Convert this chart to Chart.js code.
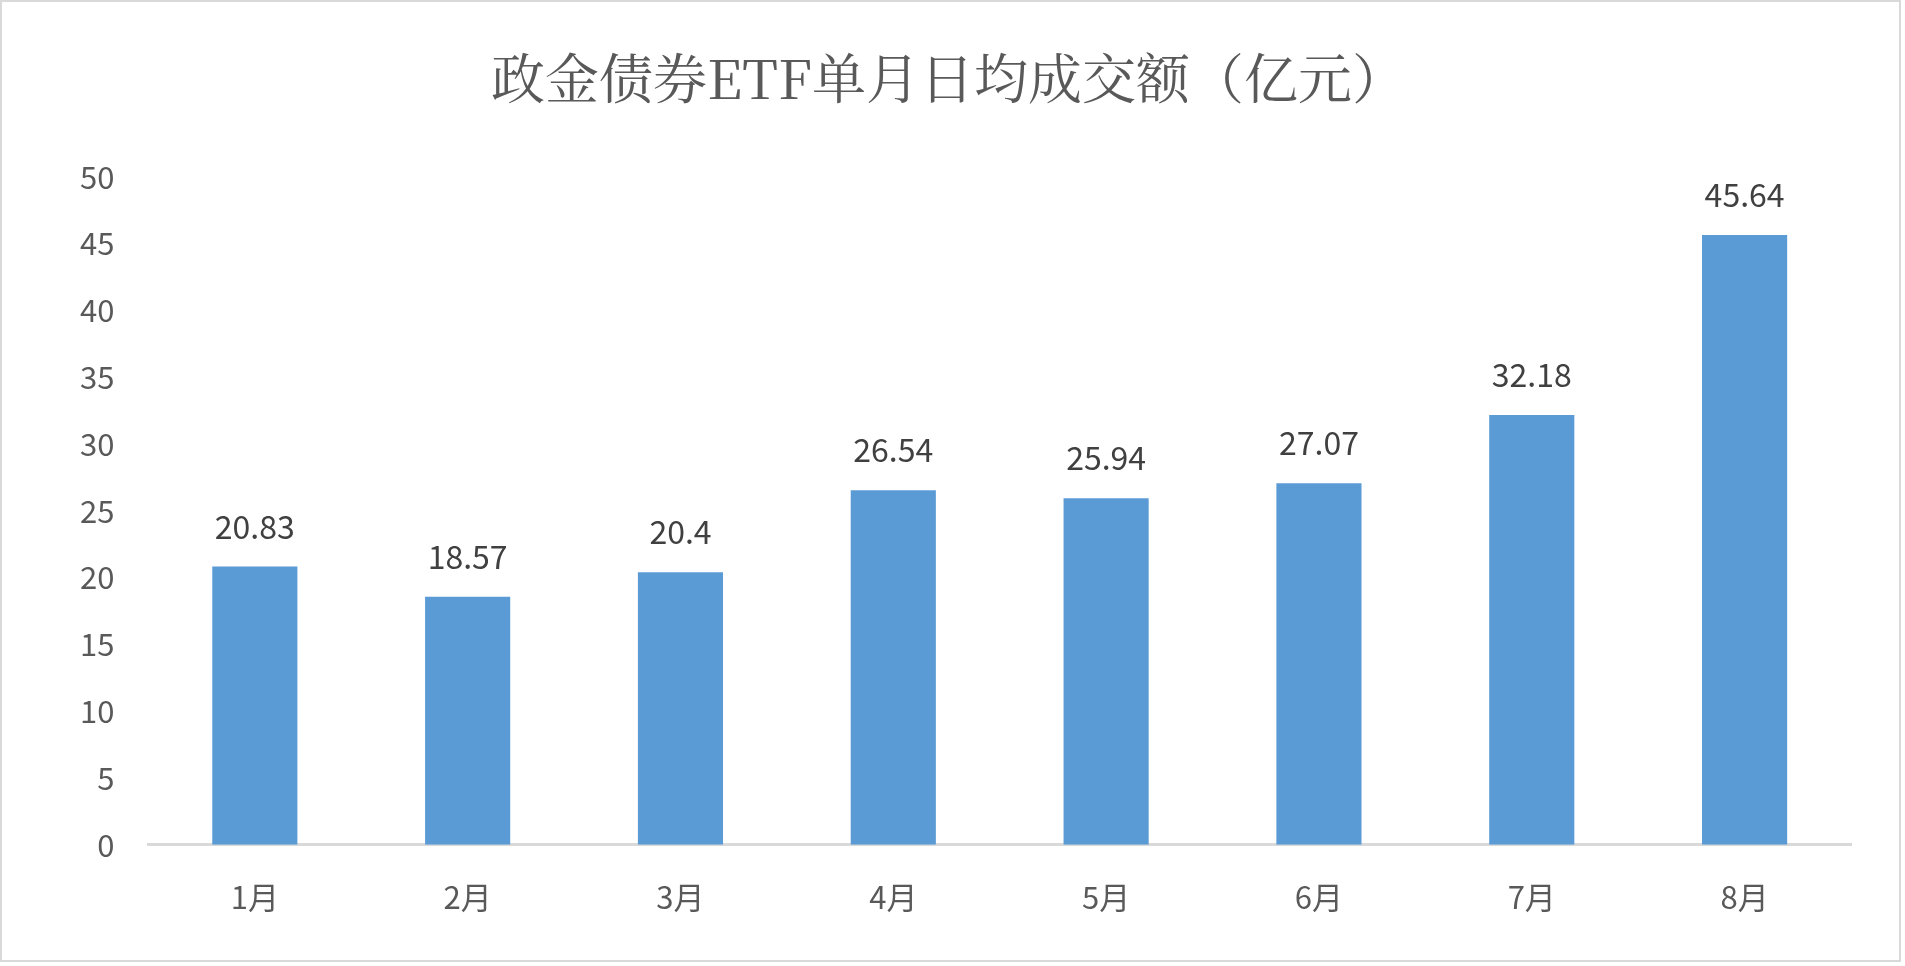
<!DOCTYPE html>
<html>
<head>
<meta charset="utf-8">
<script src="https://cdn.jsdelivr.net/npm/chart.js@4"></script>
<style>
  html, body { margin: 0; padding: 0; background: #fff; }
  #wrap { position: absolute; left: 0; top: 0; width: 1901px; height: 962px; border: 2px solid #d9d9d9; box-sizing: border-box; }
</style>
</head>
<body>
<div id="wrap"><canvas id="c"></canvas></div>
<script>
const months = ["1月","2月","3月","4月","5月","6月","7月","8月"];
const turnover = [20.83, 18.57, 20.4, 26.54, 25.94, 27.07, 32.18, 45.64];
const yTicks = [0, 5, 10, 15, 20, 25, 30, 35, 40, 45, 50];

const font = "'Noto Sans CJK SC', 'Open Sans', sans-serif";

const valueLabels = {
  id: "valueLabels",
  afterDatasetsDraw(chart) {
    const ctx = chart.ctx;
    ctx.save();
    ctx.font = "32px " + font;
    ctx.fillStyle = "#404040";
    ctx.textAlign = "center";
    ctx.textBaseline = "bottom";
    chart.getDatasetMeta(0).data.forEach((bar, i) => {
      ctx.fillText(String(turnover[i]), bar.x, bar.y - 24);
    });
    ctx.restore();
  }
};

new Chart(document.getElementById("c"), {
  type: "bar",
  data: {
    labels: months,
    datasets: [{
      data: turnover,
      backgroundColor: "#5b9bd5",
      categoryPercentage: 0.8,
      barPercentage: 0.5
    }]
  },
  options: {
    responsive: true,
    maintainAspectRatio: false,
    animation: false,
    layout: { padding: { left: 44, right: 48, top: 24, bottom: 10 } },
    plugins: {
      legend: { display: false },
      tooltip: { enabled: false },
      title: {
        display: true,
        text: "政金债券ETF单月日均成交额（亿元）",
        color: "#595959",
        font: { family: "'Noto Serif CJK SC', 'Noto Sans CJK SC', sans-serif", size: 54, weight: "normal" },
        padding: { top: 20, bottom: 66 }
      }
    },
    scales: {
      y: {
        min: 0, max: 50,
        afterBuildTicks: axis => { axis.ticks = yTicks.map(v => ({ value: v })); },
        grid: { display: false, drawTicks: false },
        border: { display: false },
        ticks: { color: "#595959", font: { family: font, size: 31 }, padding: 34 }
      },
      x: {
        grid: { display: false, drawTicks: false },
        border: { display: true, color: "#d9d9d9", width: 3 },
        ticks: { color: "#595959", font: { family: font, size: 31 }, padding: 34 }
      }
    }
  },
  plugins: [valueLabels]
});
</script>
</body>
</html>
